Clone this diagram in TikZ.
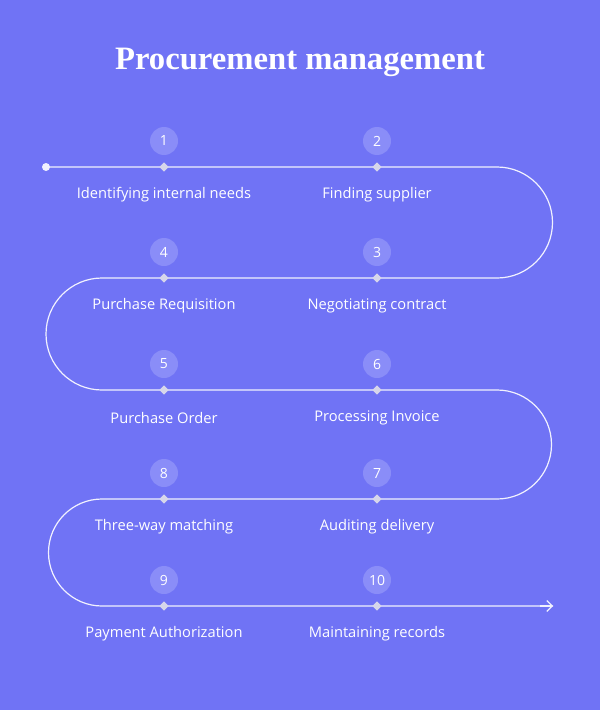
\documentclass[tikz,border=0pt]{standalone}
\usepackage{fontspec}
\setmainfont{Liberation Serif}
\setsansfont{Open Sans}
\usetikzlibrary{shapes.geometric,arrows.meta}
\definecolor{bgblue}{HTML}{7073F5}
\definecolor{numblue}{HTML}{8A8DF8}
\definecolor{tickgray}{HTML}{D6D6EA}
\tikzset{
  numdot/.style={circle, fill=numblue, minimum size=21pt, inner sep=0pt, text=white, font=\sffamily\fontsize{10.5}{12}\selectfont},
  tick/.style={diamond, fill=tickgray, minimum size=7pt, inner sep=0pt},
  steplabel/.style={text=white, font=\sffamily\fontsize{11}{13}\selectfont},
  road/.style={draw=white!90!bgblue, line width=0.9pt}
}
\begin{document}
\begin{tikzpicture}[x=0.75pt, y=-0.75pt]
    % Background
    \fill[bgblue] (0, 0) rectangle (600, 710);
    \useasboundingbox (0, 0) rectangle (600, 710);
    % Title
    \node[text=white, font=\bfseries\fontsize{24.5}{30}\selectfont] (title) at (300, 62) {Procurement management};
    % Path
    \coordinate (start) at (46, 167);
    \coordinate (finish) at (553, 606);
    \draw[road] (start) -- (497, 167) arc[start angle=-90, end angle=90, radius=55.5]
        -- (102, 278) arc[start angle=270, end angle=90, radius=56]
        -- (497, 390) arc[start angle=-90, end angle=90, radius=54.5]
        -- (102, 499) arc[start angle=270, end angle=90, radius=53.5]
        -- (finish);
    \fill[white!90!bgblue] (start) circle (3pt);
    \draw[road, -{Straight Barb[length=4pt]}] (540, 606) -- (finish);
    % Steps
    \foreach \n/\x/\y/\txt in {1/164/167/Identifying internal needs, 2/377/167/Finding supplier,
        3/377/278/Negotiating contract, 4/164/278/Purchase Requisition,
        5/164/390/Purchase Order, 6/377/390/Processing Invoice,
        7/377/499/Auditing delivery, 8/164/499/Three-way matching,
        9/164/606/Payment Authorization, 10/377/606/Maintaining records} {
        \node[tick] (t\n) at (\x, \y) {};
        \node[numdot] (n\n) at (\x, \y-26) {\n};
        \node[steplabel] (l\n) at (\x, \y+28) {\txt};
    }
\end{tikzpicture}
\end{document}
